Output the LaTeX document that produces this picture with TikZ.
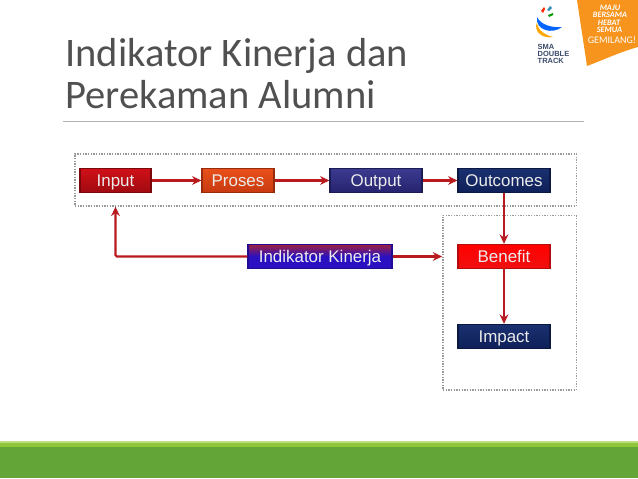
\documentclass[tikz,border=0pt]{standalone}
\usepackage{fontspec}
\setmainfont{Carlito}
\newfontfamily\boxfont{Liberation Sans}
\usetikzlibrary{arrows.meta,calc}
\definecolor{bandgreen}{HTML}{63A537}
\definecolor{bandlight}{HTML}{8FC63A}
\definecolor{bandpale}{HTML}{BFDB85}
\definecolor{titlegrey}{HTML}{505050}
\definecolor{arrowred}{HTML}{B81A1E}
\definecolor{logoorange}{HTML}{F7941D}
\definecolor{logonavy}{HTML}{3A4A6B}
\definecolor{inputtop}{HTML}{D01018}
\definecolor{inputbot}{HTML}{A00A10}
\definecolor{prosestop}{HTML}{E8501A}
\definecolor{prosesbot}{HTML}{C83A10}
\definecolor{outputtop}{HTML}{3C3A90}
\definecolor{outputbot}{HTML}{26246E}
\definecolor{navytop}{HTML}{1A3070}
\definecolor{navybot}{HTML}{0E2058}
\definecolor{benefitbot}{HTML}{F01010}
\definecolor{indikatorbot}{HTML}{2A10C0}
\definecolor{indikatorband}{HTML}{A02040}

\begin{document}
\begin{tikzpicture}
[x=0.75pt,y=-0.75pt,
  boxdecorate/.style={shape=rectangle,inner sep=0pt,draw=#1!75!black,line width=0.8pt,
    minimum height=18.2pt,text=white!92!black,text height=9.6pt,text depth=1pt,
    font=\boxfont\fontsize{12.7}{14}\selectfont},%
  groupdecorate/.style={shape=rectangle,inner sep=0pt,draw=black!40,
    line width=1pt,densely dotted},%
  linedecorate/.style={-{Stealth[length=7pt,width=6.5pt]},draw=arrowred,line width=1.6pt},%
  titledecorate/.style={text=titlegrey,anchor=base west,inner sep=0pt,
    font=\fontsize{30.4}{36}\selectfont}]
\useasboundingbox (0,0) rectangle (638,478);
%% footer band
\fill[bandgreen] (0,447) rectangle (638,478);
\fill[bandlight] (0,443) rectangle (638,447);
\fill[bandpale] (0,441) rectangle (638,443);
%% title
\node (title1) at (65,66) [titledecorate] {Indikator Kinerja dan};
\node (title2) at (65,108) [titledecorate] {Perekaman Alumni};
\draw[black!30,line width=0.6pt] (63,121) -- (584,121);
%% dotted groups
\node (inputgroup) at (325.5,180) [groupdecorate,minimum width=376pt,minimum height=39pt] {};
\node (impactgroup) at (509.5,302.5) [groupdecorate,minimum width=100pt,minimum height=131pt] {};
%% boxes
\foreach \nodename/\x/\y/\w/\topcol/\botcol/\nodetext in {
  input/115.5/180.5/71/inputtop/inputbot/Input,
  proses/238/180.5/72/prosestop/prosesbot/Proses,
  output/376/180.5/92/outputtop/outputbot/Output,
  outcomes/504/180.5/92/navytop/navybot/Outcomes,
  benefit/504/256.5/92/red/benefitbot/Benefit,
  impact/504/336.5/92/navytop/navybot/Impact}
{
  \node (\nodename) at (\x,\y) [boxdecorate=\botcol,top color=\topcol,bottom color=\botcol,
    minimum width=\w*0.75pt] {\nodetext};
}
\fill[indikatorband] (248,244) rectangle (392,248);
\node (indikator) at (320,256.5) [boxdecorate=indikatorbot,top color=indikatorband,
  bottom color=indikatorbot,middle color=indikatorbot,minimum width=108pt] {Indikator Kinerja};
%% edges or lines
\path
\foreach \startnode/\endnode in {input/proses, proses/output, output/outcomes,
  outcomes/benefit, benefit/impact}
{
  (\startnode) edge[linedecorate] node {} (\endnode)
};
\draw[linedecorate] (indikator) -- (indikator -| impactgroup.west);
\draw[linedecorate,rounded corners=1pt] (indikator.west) -| (input |- inputgroup.south);
%% logo
\fill[logoorange] (577,0) -- (638,0) -- (638,47) .. controls (620,52) and (603,60) .. (587,66) -- cycle;
\foreach \nodename/\x/\y/\nodetext in {flag1/610/7.5/MAJU, flag2/610/15/BERSAMA,
  flag3/609/22.5/HEBAT, flag4/609.5/30/SEMUA}
{
  \node (\nodename) at (\x,\y) [text=white,inner sep=0pt,font=\bfseries\itshape\fontsize{6.2}{6}\selectfont] {\nodetext};
}
\node (flag5) at (612,40) [text=white,inner sep=0pt,font=\fontsize{7.5}{8}\selectfont] {GEMILANG!};
\fill[blue!60!cyan] (537,17) .. controls (541,25) and (552,28) .. (562,27) .. controls (552,35) and (535,30) .. (537,17) -- cycle;
\fill[orange!70!yellow] (537,22) .. controls (537,30) and (545,35) .. (553,37) .. controls (543,39) and (533,32) .. (537,22) -- cycle;
\fill[red!70!orange] (541,11) -- (544,7) -- (545,9) -- (543,13) -- cycle;
\fill[green!60!black] (548,15) -- (553,13) -- (553,15) -- (549,17) -- cycle;
\fill[cyan!70!black] (547,10) -- (550,6) -- (552,8) -- (549,11) -- cycle;
\node (logotext) at (553.5,54) [text=logonavy,inner sep=0pt,align=left,
  font=\boxfont\bfseries\fontsize{5.6}{5.5}\selectfont] {SMA\\DOUBLE\\TRACK};
\end{tikzpicture}
\end{document}
